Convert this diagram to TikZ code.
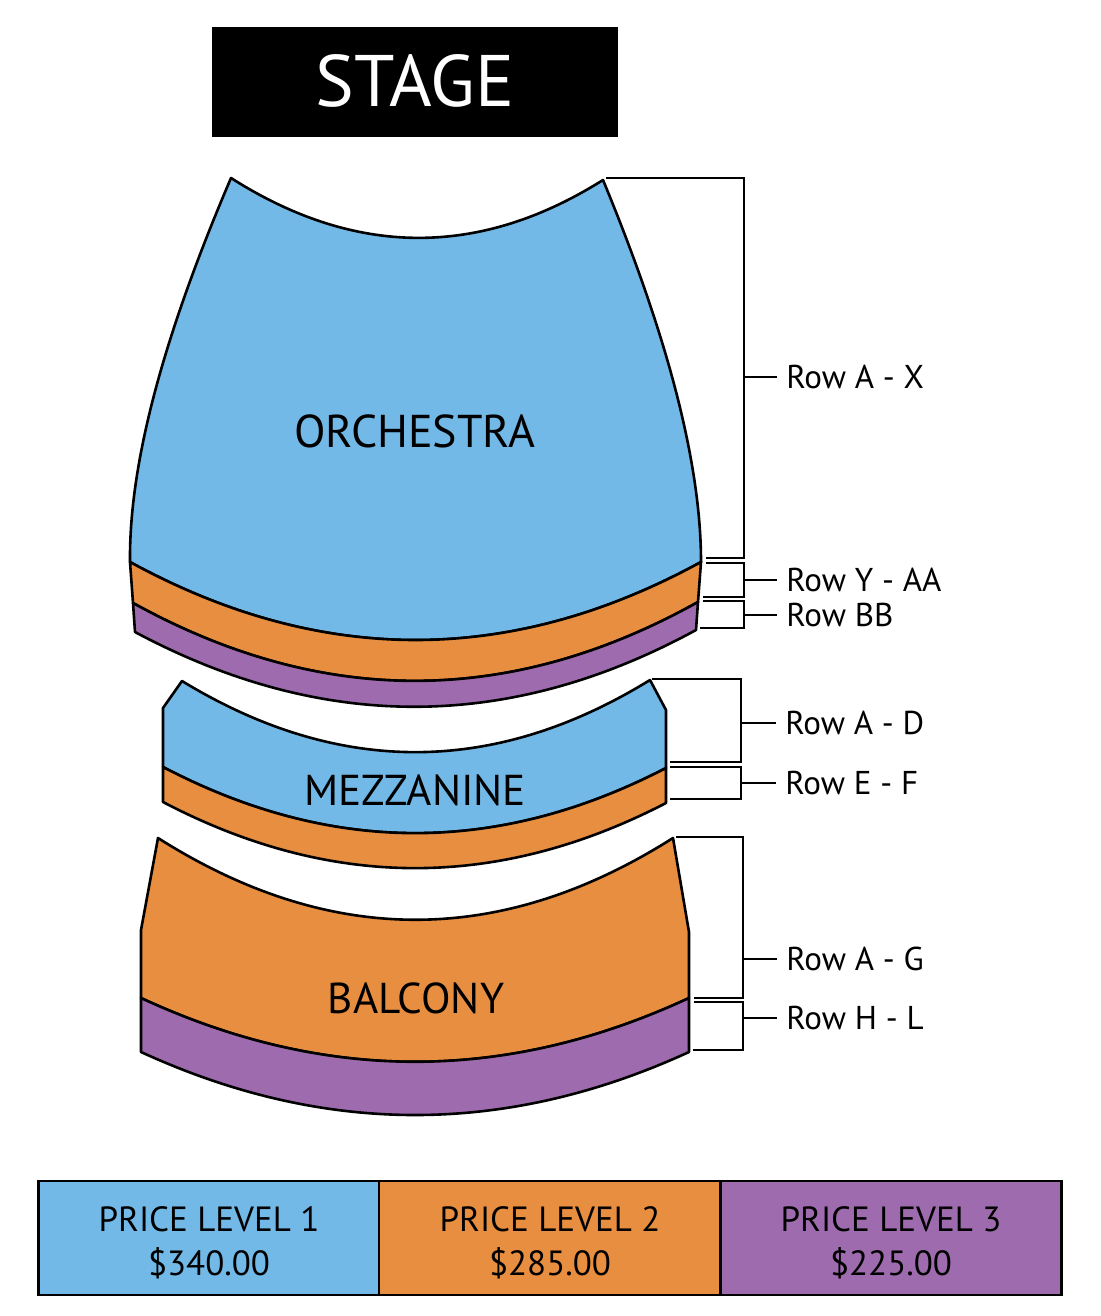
\documentclass[tikz,border=0pt]{standalone}
\usepackage{fontspec}
\setmainfont{PT Sans}
\usepackage{tikz}
\definecolor{azul}{HTML}{73B9E7}
\definecolor{naranja}{HTML}{E88E40}
\definecolor{morado}{HTML}{9E6CAE}
\tikzstyle{seccion} = [draw=black, line width=1.3pt, line join=round]
\tikzstyle{llave} = [draw=black, line width=1.2pt]
\tikzstyle{fila} = [anchor=west, inner xsep=4.5pt, inner ysep=0pt, text height=11.5pt, text depth=0pt, font=\fontsize{16.5}{18}\selectfont]
\tikzstyle{zona} = [anchor=base, inner sep=0pt]
\tikzstyle{caja} = [draw=black, line width=1.2pt, minimum width=170.5pt, minimum height=57pt, inner sep=0pt]
\tikzstyle{precio} = [anchor=base, inner sep=0pt, font=\fontsize{17.5}{20}\selectfont]

\begin{document}
\begin{tikzpicture}[x=0.5pt, y=-0.5pt]
	\useasboundingbox (0,0) rectangle (1100,1316);
	% escenario
	\node[fill=black, text=white, minimum width=203pt, minimum height=55pt, text height=25pt, text depth=0pt,
		font=\fontsize{36.5}{40}\selectfont] (stage) at (415,82) {STAGE};
	% orchestra
	\draw[seccion, fill=azul] (231,178) .. controls (355,257) and (479,258) .. (603,180)
		.. controls (668,337) and (701,464) .. (701,562)
		.. controls (511,666) and (320,666) .. (130,562)
		.. controls (129,464) and (163,337) .. (231,178) -- cycle;
	\draw[seccion, fill=naranja] (130,562) .. controls (320,666) and (511,666) .. (701,562) -- (698,602)
		.. controls (510,707) and (321,707) .. (133,603) -- cycle;
	\draw[seccion, fill=morado] (133,603) .. controls (321,707) and (510,707) .. (698,602) -- (696,630)
		.. controls (509,732) and (322,732) .. (135,632) -- cycle;
	\node[zona, font=\fontsize{23}{25}\selectfont] (orq) at (415,447) {ORCHESTRA};
	% mezzanine
	\draw[seccion, fill=azul] (182,681) .. controls (338,776) and (494,776) .. (650,680) -- (666,710) -- (666,768)
		.. controls (498,855) and (331,855) .. (163,767) -- (163,708) -- cycle;
	\draw[seccion, fill=naranja] (163,767) .. controls (331,855) and (498,855) .. (666,768) -- (666,803)
		.. controls (498,890) and (331,890) .. (163,802) -- cycle;
	\node[zona, font=\fontsize{21.6}{24}\selectfont] (mez) at (415,805) {MEZZANINE};
	% balcony
	\draw[seccion, fill=naranja] (158,838) .. controls (330,947) and (501,947) .. (673,838) -- (689,932) -- (689,998)
		.. controls (506,1083) and (324,1083) .. (141,998) -- (141,930) -- cycle;
	\draw[seccion, fill=morado] (141,998) .. controls (324,1083) and (506,1083) .. (689,998) -- (689,1052)
		.. controls (506,1136) and (324,1136) .. (141,1052) -- cycle;
	\node[zona, font=\fontsize{21.6}{24}\selectfont] (bal) at (416,1013) {BALCONY};

	% filas
	\draw[llave] (606,178) -- (744,178) -- (744,558) -- (706,558);
	\draw[llave] (706,563) -- (744,563) -- (744,597) -- (703,597);
	\draw[llave] (703,601) -- (744,601) -- (744,628) -- (700,628);
	\draw[llave] (652,679) -- (741,679) -- (741,762) -- (670,762);
	\draw[llave] (670,767) -- (741,767) -- (741,799) -- (670,799);
	\draw[llave] (676,837) -- (743,837) -- (743,998) -- (694,998);
	\draw[llave] (694,1002) -- (743,1002) -- (743,1050) -- (693,1050);
	\coordinate (cAX) at (744,377);
	\coordinate (cYAA) at (744,580);
	\coordinate (cBB) at (744,615);
	\coordinate (cAD) at (741,723);
	\coordinate (cEF) at (741,783);
	\coordinate (cAG) at (743,959);
	\coordinate (cHL) at (743,1018);
	\node[fila] (fAX) at (777,377) {Row A - X};
	\node[fila] (fYAA) at (777,580) {Row Y - AA};
	\node[fila] (fBB) at (777,615) {Row BB};
	\node[fila] (fAD) at (776,723) {Row A - D};
	\node[fila] (fEF) at (776,783) {Row E - F};
	\node[fila] (fAG) at (777,959) {Row A - G};
	\node[fila] (fHL) at (777,1018) {Row H - L};
	\draw[llave] (cAX) -- (fAX.west);
	\draw[llave] (cYAA) -- (fYAA.west);
	\draw[llave] (cBB) -- (fBB.west);
	\draw[llave] (cAD) -- (fAD.west);
	\draw[llave] (cEF) -- (fEF.west);
	\draw[llave] (cAG) -- (fAG.west);
	\draw[llave] (cHL) -- (fHL.west);

	% precios
	\node[caja, fill=azul] (nivel1) at (209,1238) {};
	\node[caja, fill=naranja] (nivel2) at (549.5,1238) {};
	\node[caja, fill=morado] (nivel3) at (891,1238) {};
	\node[precio] at (209,1231) {PRICE LEVEL 1};
	\node[precio] at (209,1275) {\$340.00};
	\node[precio] at (550,1231) {PRICE LEVEL 2};
	\node[precio] at (550,1275) {\$285.00};
	\node[precio] at (891,1231) {PRICE LEVEL 3};
	\node[precio] at (891,1275) {\$225.00};
\end{tikzpicture}
\end{document}
